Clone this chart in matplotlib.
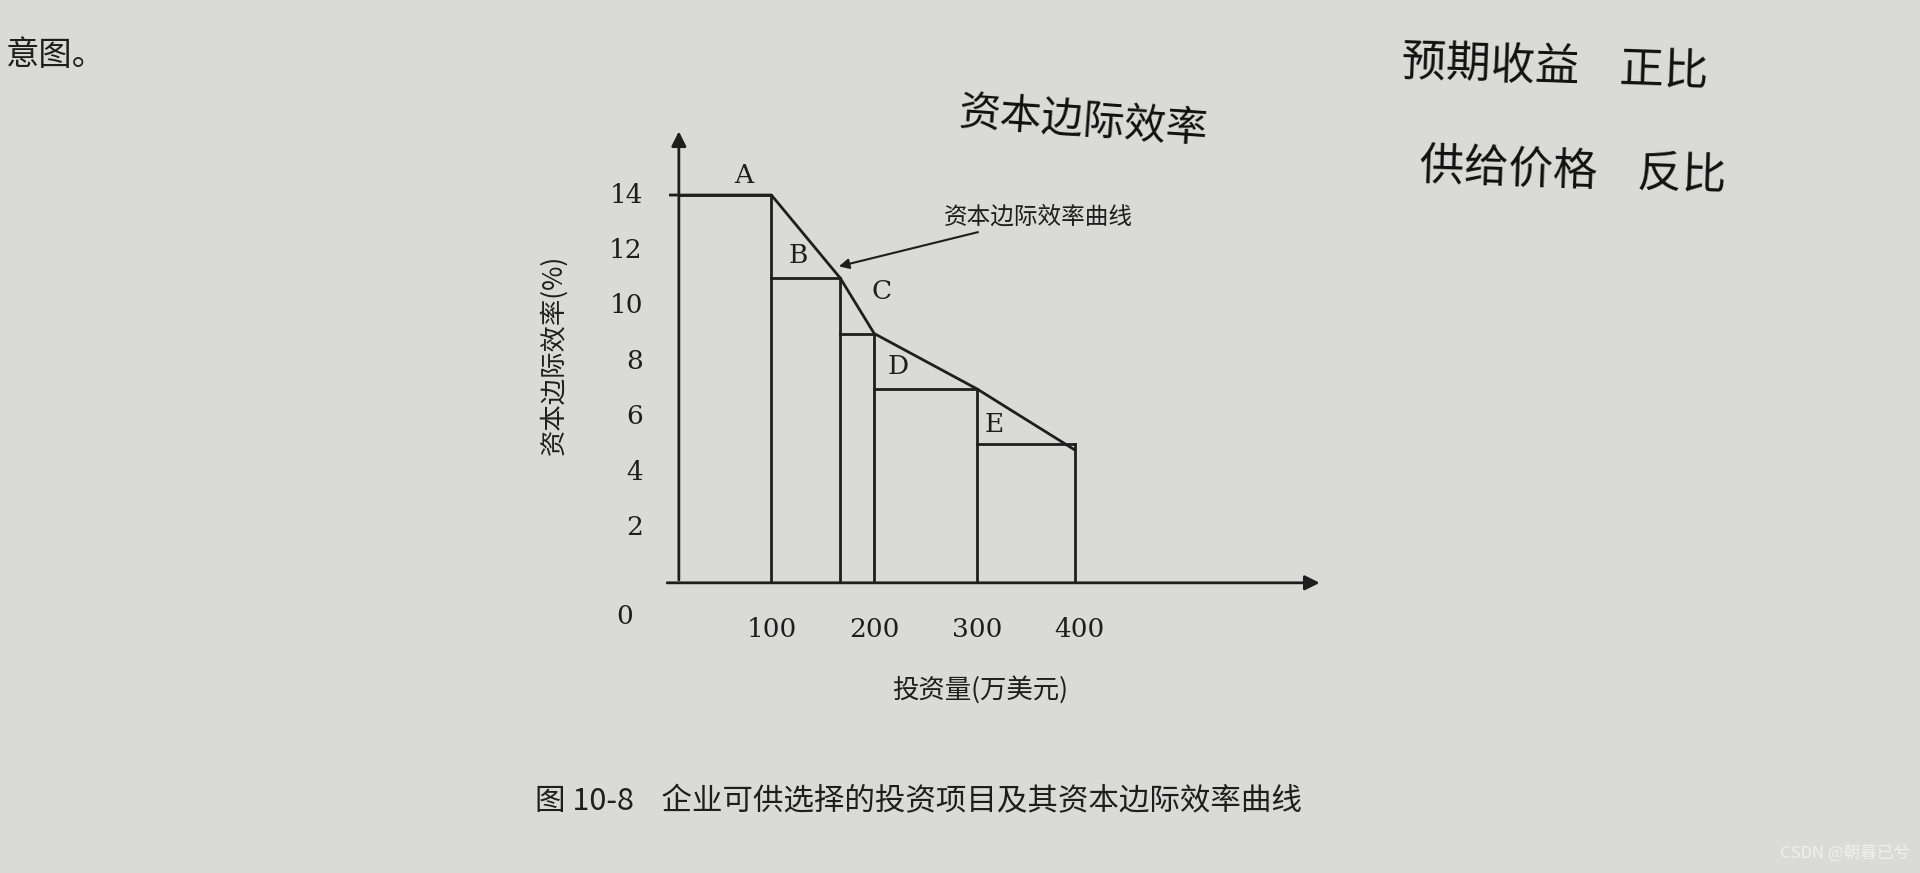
import matplotlib.pyplot as plt

plt.rcParams['font.family'] = ['Noto Sans CJK SC', 'DejaVu Sans']

# investment projects: left edge, right edge, marginal efficiency (%)
projects = ['A', 'B', 'C', 'D', 'E']
left = [0, 100, 167, 200, 300]
right = [100, 167, 200, 300, 395]
rate = [14, 11, 9, 7, 5]

# marginal efficiency of capital curve
curve_x = [0, 100, 167, 200, 300, 395]
curve_y = [14, 14, 11, 9, 7, 4.8]

label_x = [73, 126, 207, 223, 317]
label_y = [14.7, 11.8, 10.5, 7.8, 5.7]

yticks = [2, 4, 6, 8, 10, 12, 14]
xticks = [100, 200, 300, 400]

W, H = 1568, 713
def fx(px): return px / W
def fy(py): return 1 - py / H

ink = '#1e1e1e'
paper = '#dadad6'

fig = plt.figure(figsize=(19.2, 8.73), dpi=100, facecolor=paper)
ax = fig.add_axes([fx(546), fy(476), fx(1080 - 546), (476 - 105) / H])
ax.set_facecolor(paper)
ax.set_xlim(0, 636)
ax.set_ylim(0, 16.4)
for s in ax.spines.values():
    s.set_visible(False)
ax.set_xticks([])
ax.set_yticks([])

# axes with arrows
ax.annotate('', xy=(636, 0), xytext=(-4, 0),
            arrowprops=dict(arrowstyle='-|>', color=ink, lw=2, mutation_scale=22))
ax.annotate('', xy=(10, 16.4), xytext=(10, 0),
            arrowprops=dict(arrowstyle='-|>', color=ink, lw=2, mutation_scale=22))

# project bars
for l, r, h in zip(left, right, rate):
    ax.plot([l if l > 0 else 10, r], [h, h], color=ink, lw=2)
    ax.plot([r, r], [0, h], color=ink, lw=2)
ax.plot(curve_x, curve_y, color=ink, lw=2)

for p, x, y in zip(projects, label_x, label_y):
    ax.text(x, y, p, fontsize=19, color=ink, ha='center', va='center', family='DejaVu Serif')

for t in yticks:
    ax.text(-25, t, str(t), fontsize=19, color=ink, ha='right', va='center', family='DejaVu Serif')
ax.text(-35, -1.2, '0', fontsize=19, color=ink, ha='right', va='center', family='DejaVu Serif')
for t in xticks:
    ax.text(t, -1.7, str(t), fontsize=19, color=ink, ha='center', va='center', family='DejaVu Serif')

ax.annotate('资本边际效率曲线', xy=(163, 11.4), xytext=(268, 13.2),
            fontsize=17, color=ink, va='center', ha='left',
            arrowprops=dict(arrowstyle='-|>', color=ink, lw=1.5, mutation_scale=15))

fig.text(fx(452), fy(290), '资本边际效率(%)', rotation=90, fontsize=19, color=ink,
         ha='center', va='center')
fig.text(fx(800), fy(563), '投资量(万美元)', fontsize=19, color=ink, ha='center', va='center')
fig.text(fx(750), fy(655), '图 10-8    企业可供选择的投资项目及其资本边际效率曲线',
         fontsize=22, color=ink, ha='center', va='center')
fig.text(fx(5), fy(45), '意图。', fontsize=24, color=ink, ha='left', va='center')

# handwritten notes
fig.text(fx(885), fy(100), '资本边际效率', fontsize=30, color='#111', ha='center',
         va='center', rotation=-4, style='italic')
fig.text(fx(1270), fy(55), '预期收益    正比', fontsize=32, color='#111', ha='center',
         va='center', rotation=-2)
fig.text(fx(1285), fy(140), '供给价格    反比', fontsize=32, color='#111', ha='center',
         va='center', rotation=-2)
fig.text(fx(1560), fy(697), 'CSDN @朝暮已兮', fontsize=12, color='#f0f0f0', ha='right', va='center')

fig.savefig('out.png', dpi=100, facecolor=paper)
